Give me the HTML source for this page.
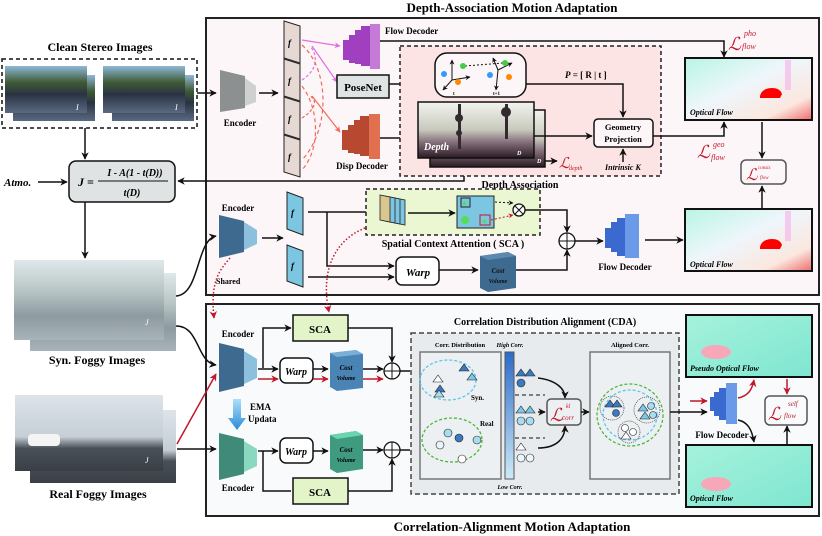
<!DOCTYPE html>
<html><head><meta charset="utf-8"><style>
html,body{margin:0;padding:0;background:#fff;}
svg{display:block;font-family:"Liberation Serif",serif;}
.b{font-weight:bold;}
</style></head><body>
<svg width="822" height="536" viewBox="0 0 822 536" xmlns="http://www.w3.org/2000/svg">
<defs>
<marker id="a" viewBox="0 0 10 10" refX="9" refY="5" markerWidth="5" markerHeight="5" orient="auto"><path d="M0,0L10,5L0,10L3,5z" fill="#111"/></marker>
<marker id="ar" viewBox="0 0 10 10" refX="9" refY="5" markerWidth="5" markerHeight="5" orient="auto"><path d="M0,0L10,5L0,10L3,5z" fill="#c0192b"/></marker>
<marker id="ap" viewBox="0 0 10 10" refX="9" refY="5" markerWidth="5" markerHeight="5" orient="auto"><path d="M0,0L10,5L0,10L3,5z" fill="#e070e0"/></marker>
<marker id="ao" viewBox="0 0 10 10" refX="9" refY="5" markerWidth="5" markerHeight="5" orient="auto"><path d="M0,0L10,5L0,10L3,5z" fill="#f06a5a"/></marker>
<linearGradient id="of" x1="0" y1="0" x2="1" y2="1"><stop offset="0" stop-color="#b8f5e4"/><stop offset="0.45" stop-color="#eef6fb"/><stop offset="0.8" stop-color="#fbe7df"/><stop offset="1" stop-color="#f06a6a"/></linearGradient>
<linearGradient id="of2" x1="0" y1="0" x2="1" y2="1"><stop offset="0" stop-color="#a6f2dc"/><stop offset="1" stop-color="#7ee6d0"/></linearGradient>
<linearGradient id="dp" x1="0" y1="0" x2="0" y2="1"><stop offset="0" stop-color="#f2f4ee"/><stop offset="0.5" stop-color="#c8c8bc"/><stop offset="0.7" stop-color="#8a7580"/><stop offset="1" stop-color="#2a1a24"/></linearGradient>
<linearGradient id="clean" x1="0" y1="0" x2="0" y2="1"><stop offset="0" stop-color="#8fb8d8"/><stop offset="0.35" stop-color="#3f5a35"/><stop offset="0.6" stop-color="#2a3242"/><stop offset="1" stop-color="#5a6a82"/></linearGradient>
<linearGradient id="syn" x1="0" y1="0" x2="0" y2="1"><stop offset="0" stop-color="#dfe8ea"/><stop offset="0.4" stop-color="#b7c4c4"/><stop offset="0.7" stop-color="#8d9aa0"/><stop offset="1" stop-color="#a8b4ba"/></linearGradient>
<linearGradient id="real" x1="0" y1="0" x2="0" y2="1"><stop offset="0" stop-color="#dde4ea"/><stop offset="0.55" stop-color="#c6ced6"/><stop offset="0.7" stop-color="#4a5058"/><stop offset="1" stop-color="#3a3f46"/></linearGradient>
<linearGradient id="bar" x1="0" y1="0" x2="0" y2="1"><stop offset="0" stop-color="#2a6bc8"/><stop offset="1" stop-color="#cfeaf8"/></linearGradient>
<linearGradient id="ema" x1="0" y1="0" x2="0" y2="1"><stop offset="0" stop-color="#aee0f8"/><stop offset="1" stop-color="#2a8ad8"/></linearGradient>
</defs>

<text x="512" y="12" text-anchor="middle" class="b" font-size="13">Depth-Association Motion Adaptation</text>
<text x="512" y="531" text-anchor="middle" class="b" font-size="13">Correlation-Alignment Motion Adaptation</text>

<rect x="206" y="18" width="613" height="277" fill="#fdf6f9" stroke="#222" stroke-width="2"/>
<rect x="206" y="304" width="613" height="212" fill="#f8fafc" stroke="#222" stroke-width="2"/>

<text x="100" y="51" text-anchor="middle" class="b" font-size="12">Clean Stereo Images</text>
<rect x="2" y="59" width="195" height="69" fill="#fff" stroke="#111" stroke-width="1.5" stroke-dasharray="4,3"/>
<rect x="13" y="75" width="82" height="46" fill="url(#clean)"/>
<rect x="5" y="66" width="82" height="47" fill="url(#clean)"/>
<rect x="112" y="75" width="82" height="46" fill="url(#clean)"/>
<rect x="103" y="66" width="82" height="47" fill="url(#clean)"/>
<text x="76" y="110" fill="#fff" font-size="8" font-style="italic">I</text>
<text x="175" y="110" fill="#fff" font-size="8" font-style="italic">I</text>
<line x1="197" y1="93" x2="216" y2="93" stroke="#111" stroke-width="1.5" marker-end="url(#a)"/>
<line x1="85" y1="128" x2="85" y2="159" stroke="#111" stroke-width="1.5" marker-end="url(#a)"/>

<rect x="69" y="161" width="106" height="41" rx="7" fill="#dfe3e3" stroke="#111" stroke-width="1.5"/>
<text x="78" y="186" class="b" font-style="italic" font-size="12">J =</text>
<text x="135" y="176" text-anchor="middle" class="b" font-style="italic" font-size="10">I - A(1 - t(D))</text>
<line x1="98" y1="181" x2="168" y2="181" stroke="#111" stroke-width="1"/>
<text x="132" y="196" text-anchor="middle" class="b" font-style="italic" font-size="10">t(D)</text>
<text x="4" y="186" class="b" font-style="italic" font-size="11">Atmo.</text>
<line x1="38" y1="182" x2="67" y2="182" stroke="#111" stroke-width="1.5" marker-end="url(#a)"/>
<polyline points="464,170 464,181 178,181" fill="none" stroke="#111" stroke-width="1.5" marker-end="url(#a)"/>
<line x1="85" y1="202" x2="85" y2="258" stroke="#111" stroke-width="1.5" marker-end="url(#a)"/>

<rect x="30" y="273" width="146" height="78" fill="url(#syn)"/>
<rect x="14" y="260" width="150" height="80" fill="url(#syn)"/>
<text x="145" y="325" fill="#fff" font-size="8" font-style="italic">J</text>
<text x="97" y="364" text-anchor="middle" class="b" font-size="12">Syn. Foggy Images</text>
<path d="M176,296 C200,295 196,240 216,236" fill="none" stroke="#111" stroke-width="1.5" marker-end="url(#a)"/>
<path d="M176,326 C200,326 196,362 216,365" fill="none" stroke="#111" stroke-width="1.5" marker-end="url(#a)"/>

<rect x="30" y="410" width="146" height="73" fill="url(#real)"/>
<rect x="15" y="395" width="148" height="76" fill="url(#real)"/>
<rect x="28" y="434" width="32" height="12" rx="4" fill="#f4f4f4"/>
<text x="145" y="463" fill="#fff" font-size="8" font-style="italic">J</text>
<text x="98" y="498" text-anchor="middle" class="b" font-size="12">Real Foggy Images</text>
<line x1="177" y1="449" x2="216" y2="449" stroke="#111" stroke-width="1.5" marker-end="url(#a)"/>
<line x1="177" y1="444" x2="216" y2="374" stroke="#c0192b" stroke-width="1.5" marker-end="url(#ar)"/>

<polygon points="220,70 245,76 245,108 220,112" fill="#8c9090"/>
<polygon points="245,78 256,86 256,102 245,106" fill="#cfd0d0"/>
<text x="240" y="126" text-anchor="middle" class="b" font-size="9">Encoder</text>
<line x1="259" y1="93" x2="278" y2="93" stroke="#111" stroke-width="1.5" marker-end="url(#a)"/>
<g fill="#e6d8d2" stroke="#222" stroke-width="1">
<polygon points="284,21 300,26 300,63 284,58"/>
<polygon points="284,59 300,64 300,101 284,96"/>
<polygon points="284,97 300,102 300,139 284,134"/>
<polygon points="284,135 300,140 300,177 284,172"/>
</g>
<g font-size="9" font-style="italic" class="b"><text x="288" y="46">f</text><text x="288" y="84">f</text><text x="288" y="122">f</text><text x="288" y="160">f</text></g>
<g fill="none" stroke-width="1.2">
<path d="M302,40 L340,46" stroke="#e070e0" marker-end="url(#ap)"/>
<path d="M312,46 L337,82" stroke="#e070e0" marker-end="url(#ap)"/>
<path d="M302,80 C318,70 318,55 310,46" stroke="#e070e0" stroke-dasharray="3,2"/>
<path d="M312,96 L340,132" stroke="#f06a5a" marker-end="url(#ao)"/>
<path d="M302,45 C330,70 330,130 302,160" stroke="#f06a5a" stroke-dasharray="4,3"/>
<path d="M302,118 C315,110 318,100 310,96" stroke="#f06a5a" stroke-dasharray="3,2"/>
<path d="M302,86 C320,110 320,150 302,170" stroke="#f06a5a" stroke-dasharray="4,3"/>
</g>
<g fill="#a040c0"><rect x="343" y="40" width="8" height="20"/><rect x="349" y="35" width="8" height="28"/><rect x="355" y="30" width="8" height="34"/><rect x="361" y="26" width="9" height="40"/></g>
<rect x="370" y="24" width="10" height="45" fill="#c67ad8"/>
<text x="385" y="34" class="b" font-size="9">Flow Decoder</text>
<polyline points="380,41 724,41 724,57" fill="none" stroke="#111" stroke-width="1.5" marker-end="url(#a)"/>
<rect x="337" y="75" width="52" height="23" fill="#dfe3e3" stroke="#111" stroke-width="1.5"/>
<text x="363" y="91" text-anchor="middle" class="b" font-size="11">PoseNet</text>
<line x1="389" y1="84" x2="433" y2="84" stroke="#111" stroke-width="1.5" marker-end="url(#a)"/>
<g fill="#b84830"><rect x="342" y="130" width="8" height="20"/><rect x="348" y="125" width="8" height="28"/><rect x="354" y="120" width="8" height="34"/><rect x="360" y="116" width="9" height="40"/></g>
<rect x="369" y="114" width="11" height="45" fill="#e07050"/>
<text x="362" y="169" text-anchor="middle" class="b" font-size="9">Disp Decoder</text>
<line x1="380" y1="138" x2="416" y2="138" stroke="#111" stroke-width="1.5" marker-end="url(#a)"/>

<rect x="400" y="46" width="261" height="130" fill="#fde4e4" stroke="#222" stroke-width="1.5" stroke-dasharray="4,3"/>
<text x="520" y="188" text-anchor="middle" class="b" font-size="10">Depth Association</text>
<rect x="435" y="53" width="91" height="44" rx="12" fill="#fdf6f9" stroke="#111" stroke-width="1.5"/>
<g stroke="#111" stroke-width="1"><line x1="452" y1="80" x2="452" y2="60" marker-end="url(#a)"/><line x1="452" y1="80" x2="470" y2="77" marker-end="url(#a)"/><line x1="452" y1="80" x2="443" y2="90" marker-end="url(#a)"/><line x1="498" y1="70" x2="493" y2="58" marker-end="url(#a)"/><line x1="498" y1="70" x2="512" y2="63" marker-end="url(#a)"/><line x1="498" y1="70" x2="496" y2="90" marker-end="url(#a)"/></g>
<line x1="465" y1="66" x2="503" y2="63" stroke="#111" stroke-dasharray="2,2"/>
<circle cx="463" cy="66" r="3" fill="#4c4"/><circle cx="444" cy="74" r="3" fill="#39f"/><circle cx="458" cy="82" r="3" fill="#f80"/>
<circle cx="505" cy="63" r="3" fill="#4c4"/><circle cx="490" cy="75" r="3" fill="#39f"/><circle cx="509" cy="77" r="3" fill="#f80"/>
<text x="453" y="95" font-size="5" class="b">t</text><text x="493" y="95" font-size="5" class="b">t+1</text>
<text x="565" y="78" class="b" font-size="9"><tspan font-style="italic">P</tspan> = [ R | t ]</text>
<polyline points="526,84 623,84 623,117" fill="none" stroke="#111" stroke-width="1.5" marker-end="url(#a)"/>
<rect x="430" y="110" width="115" height="57" fill="url(#dp)" stroke="#111" stroke-width="1.5"/>
<rect x="418" y="102" width="116" height="56" fill="url(#dp)" stroke="#111" stroke-width="1.5"/>
<g fill="#332a30"><rect x="458" y="104" width="3" height="45"/><rect x="505" y="104" width="3" height="35"/><circle cx="459" cy="118" r="4"/><circle cx="506" cy="112" r="5"/><circle cx="459" cy="133" r="3"/></g>
<text x="424" y="150" fill="#fff" font-size="10" class="b" font-style="italic">Depth</text>
<text x="517" y="155" fill="#fff" font-size="6" class="b" font-style="italic">D</text>
<text x="537" y="163" fill="#fff" font-size="6" class="b" font-style="italic">D</text>
<line x1="545" y1="161" x2="557" y2="161" stroke="#111" stroke-width="1.5" marker-end="url(#a)"/>
<text x="559" y="168" fill="#c0192b" font-size="15" font-style="italic">ℒ</text><text x="569" y="170" fill="#c0192b" font-size="6" font-style="italic">depth</text>
<line x1="534" y1="136" x2="592" y2="136" stroke="#111" stroke-width="1.5" marker-end="url(#a)"/>
<rect x="594" y="119" width="59" height="28" rx="4" fill="#fdf6f9" stroke="#111" stroke-width="1.5"/>
<text x="623" y="130" text-anchor="middle" class="b" font-size="8.5">Geometry</text>
<text x="623" y="142" text-anchor="middle" class="b" font-size="8.5">Projection</text>
<line x1="623" y1="162" x2="623" y2="149" stroke="#111" stroke-width="1.5" marker-end="url(#a)"/>
<text x="605" y="170" class="b" font-style="italic" font-size="8">Intrinsic K</text>
<polyline points="653,136 724,136 724,122" fill="none" stroke="#111" stroke-width="1.5" marker-end="url(#a)"/>

<rect x="685" y="58" width="127" height="62" fill="url(#of)" stroke="#111" stroke-width="2"/>
<path d="M760,96 q2,-8 12,-8 q8,0 10,6 l-2,4 h-20z" fill="#f00"/><rect x="785" y="60" width="6" height="30" fill="#f6b8e8" opacity="0.7"/>
<text x="690" y="115" class="b" font-style="italic" font-size="8">Optical Flow</text>
<text x="728" y="50" fill="#c0192b" font-size="18" font-style="italic">ℒ</text><text x="744" y="36" fill="#c0192b" font-size="8" font-style="italic">pho</text><text x="742" y="49" fill="#c0192b" font-size="8" font-style="italic">flow</text>
<text x="697" y="158" fill="#c0192b" font-size="18" font-style="italic">ℒ</text><text x="713" y="147" fill="#c0192b" font-size="8" font-style="italic">geo</text><text x="711" y="160" fill="#c0192b" font-size="8" font-style="italic">flow</text>
<line x1="762" y1="122" x2="762" y2="158" stroke="#111" stroke-width="1.5" marker-end="url(#a)"/>
<rect x="741" y="160" width="45" height="24" rx="5" fill="#fdf6f9" stroke="#555" stroke-width="1.5"/>
<text x="746" y="180" fill="#c0192b" font-size="16" font-style="italic">ℒ</text><text x="758" y="169" fill="#c0192b" font-size="5" font-style="italic">consis</text><text x="760" y="179" fill="#c0192b" font-size="5" font-style="italic">flow</text>
<line x1="762" y1="208" x2="762" y2="186" stroke="#111" stroke-width="1.5" marker-end="url(#a)"/>
<rect x="685" y="209" width="127" height="62" fill="url(#of)" stroke="#111" stroke-width="2"/>
<path d="M760,247 q2,-8 12,-8 q8,0 10,6 l-2,4 h-20z" fill="#f00"/><rect x="785" y="211" width="6" height="30" fill="#f6b8e8" opacity="0.7"/>
<text x="690" y="267" class="b" font-style="italic" font-size="8">Optical Flow</text>

<text x="238" y="211" text-anchor="middle" class="b" font-size="9">Encoder</text>
<polygon points="219,215 244,221 244,252 219,258" fill="#3e6a90"/>
<polygon points="244,222 257,230 257,244 244,250" fill="#8cc0dc"/>
<text x="216" y="284" class="b" font-size="8">Shared</text>
<line x1="262" y1="238" x2="283" y2="238" stroke="#111" stroke-width="1.5" marker-end="url(#a)"/>
<polygon points="287,192 303,198 303,235 287,229" fill="#7cc6e2" stroke="#222"/>
<polygon points="287,245 303,251 303,287 287,281" fill="#7cc6e2" stroke="#222"/>
<text x="291" y="216" font-size="9" class="b" font-style="italic">f</text><text x="291" y="269" font-size="9" class="b" font-style="italic">f</text>
<polyline points="308,212 380,212" fill="none" stroke="#111" stroke-width="1.5" marker-end="url(#a)"/>
<polyline points="327,212 327,266 394,266" fill="none" stroke="#111" stroke-width="1.5" marker-end="url(#a)"/>
<line x1="308" y1="277" x2="394" y2="277" stroke="#111" stroke-width="1.5" marker-end="url(#a)"/>
<rect x="366" y="189" width="174" height="46" fill="#eaf7d2" stroke="#222" stroke-width="1.5" stroke-dasharray="4,3"/>
<g stroke="#222" stroke-width="0.8"><polygon points="395,198 405,200 405,225 395,223" fill="#7cc6e2"/><polygon points="390,197 400,199 400,224 390,222" fill="#7cc6e2"/><polygon points="385,196 395,198 395,223 385,221" fill="#7cc6e2"/><polygon points="380,195 390,197 390,222 380,220" fill="#d8c890"/></g>
<line x1="408" y1="213" x2="455" y2="213" stroke="#111" stroke-width="1.5" marker-end="url(#a)"/>
<rect x="457" y="196" width="37" height="32" fill="#7cc6e2" stroke="#222"/>
<rect x="461" y="198" width="9" height="9" fill="none" stroke="#222"/><rect x="480" y="215" width="10" height="10" fill="none" stroke="#c0192b"/>
<circle cx="465" cy="220" r="4" fill="#5d5"/><text x="461" y="206" font-size="8" fill="#5d5">★</text><text x="481" y="224" font-size="8" fill="#5d5">★</text>
<path d="M495,202 L513,203" stroke="#111" stroke-dasharray="2,2" marker-end="url(#a)"/>
<path d="M491,220 L513,215" stroke="#c0192b" stroke-dasharray="2,2" marker-end="url(#ar)"/>
<circle cx="519" cy="210" r="6" fill="#fff" stroke="#111" stroke-width="1.3"/><path d="M515,206 L523,214 M523,206 L515,214" stroke="#111"/>
<text x="453" y="247" text-anchor="middle" class="b" font-size="10">Spatial Context Attention ( SCA )</text>
<polyline points="525,210 567,210 567,232" fill="none" stroke="#111" stroke-width="1.5" marker-end="url(#a)"/>
<rect x="396" y="257" width="43" height="28" rx="6" fill="#fff" stroke="#111" stroke-width="1.5"/>
<text x="418" y="276" text-anchor="middle" class="b" font-style="italic" font-size="11">Warp</text>
<line x1="439" y1="270" x2="478" y2="270" stroke="#111" stroke-width="1.5" marker-end="url(#a)"/>
<polygon points="480,256 508,252 516,256 516,288 488,292 480,288" fill="#3e6a90"/><polygon points="480,256 508,252 516,256 488,260" fill="#5a8ab0"/>
<text x="498" y="273" text-anchor="middle" font-size="7" class="b" font-style="italic" fill="#111">Cost</text><text x="498" y="283" text-anchor="middle" font-size="6" class="b" font-style="italic" fill="#111">Volume</text>
<polyline points="516,270 567,270 567,250" fill="none" stroke="#111" stroke-width="1.5" marker-end="url(#a)"/>
<circle cx="567" cy="241" r="8" fill="#fff" stroke="#111" stroke-width="1.3"/><path d="M559,241 H575 M567,233 V249" stroke="#111"/>
<line x1="575" y1="241" x2="603" y2="241" stroke="#111" stroke-width="1.5" marker-end="url(#a)"/>
<g fill="#3a6ad0"><rect x="605" y="228" width="8" height="20"/><rect x="611" y="222" width="8" height="30"/><rect x="617" y="218" width="8" height="38"/></g><rect x="625" y="214" width="14" height="44" fill="#6a9ae8"/>
<text x="625" y="270" text-anchor="middle" class="b" font-size="9">Flow Decoder</text>
<line x1="645" y1="240" x2="683" y2="240" stroke="#111" stroke-width="1.5" marker-end="url(#a)"/>
<path d="M230,258 C220,270 210,280 214,318" fill="none" stroke="#c0192b" stroke-width="1.5" stroke-dasharray="1.5,2" marker-end="url(#ar)"/>
<path d="M365,228 C335,240 320,270 329,312" fill="none" stroke="#c0192b" stroke-width="1.5" stroke-dasharray="1.5,2" marker-end="url(#ar)"/>

<text x="238" y="337" text-anchor="middle" class="b" font-size="9">Encoder</text>
<polygon points="219,343 244,349 244,386 219,392" fill="#3e6a90"/><polygon points="244,351 257,359 257,378 244,384" fill="#8cc0dc"/>
<polyline points="263,368 263,328 291,328" fill="none" stroke="#111" stroke-width="1.5" marker-end="url(#a)"/>
<rect x="293" y="315" width="55" height="26" fill="#e3f5c8" stroke="#111" stroke-width="1.5"/>
<text x="320" y="333" text-anchor="middle" class="b" font-size="11">SCA</text>
<polyline points="348,328 392,328 392,362" fill="none" stroke="#111" stroke-width="1.5" marker-end="url(#a)"/>
<line x1="258" y1="369" x2="278" y2="369" stroke="#111" stroke-width="1.5" marker-end="url(#a)"/>
<line x1="258" y1="379" x2="278" y2="379" stroke="#c0192b" stroke-width="1.5" marker-end="url(#ar)"/>
<rect x="280" y="358" width="33" height="25" rx="6" fill="#fff" stroke="#111" stroke-width="1.5"/>
<text x="296" y="375" text-anchor="middle" class="b" font-style="italic" font-size="10">Warp</text>
<line x1="313" y1="369" x2="328" y2="369" stroke="#111" stroke-width="1.5" marker-end="url(#a)"/>
<line x1="313" y1="379" x2="328" y2="379" stroke="#c0192b" stroke-width="1.5" marker-end="url(#ar)"/>
<polygon points="330,353 356,350 363,354 363,388 337,391 330,387" fill="#4a84b4"/><polygon points="330,353 356,350 363,354 337,357" fill="#7ab0d8"/>
<text x="346" y="370" text-anchor="middle" font-size="7" class="b" font-style="italic">Cost</text><text x="346" y="380" text-anchor="middle" font-size="6" class="b" font-style="italic">Volume</text>
<line x1="363" y1="369" x2="383" y2="369" stroke="#111" stroke-width="1.5" marker-end="url(#a)"/>
<line x1="363" y1="379" x2="383" y2="379" stroke="#c0192b" stroke-width="1.5" marker-end="url(#ar)"/>
<circle cx="392" cy="371" r="8" fill="#fff" stroke="#111" stroke-width="1.3"/><path d="M384,371 H400 M392,363 V379" stroke="#111"/>
<line x1="400" y1="371" x2="410" y2="371" stroke="#111" stroke-width="1.5"/>
<polygon points="233,399 241,399 241,418 246,418 237,430 228,418 233,418" fill="url(#ema)"/>
<text x="250" y="410" class="b" font-size="9">EMA</text><text x="248" y="422" class="b" font-size="9">Updata</text>
<polygon points="219,433 244,439 244,474 219,480" fill="#3f8a78"/><polygon points="244,441 257,449 257,466 244,472" fill="#8ad8c0"/>
<text x="238" y="491" text-anchor="middle" class="b" font-size="9">Encoder</text>
<line x1="258" y1="451" x2="278" y2="451" stroke="#111" stroke-width="1.5" marker-end="url(#a)"/>
<polyline points="263,451 263,491 291,491" fill="none" stroke="#111" stroke-width="1.5"/>
<rect x="280" y="438" width="33" height="25" rx="6" fill="#fff" stroke="#111" stroke-width="1.5"/>
<text x="296" y="455" text-anchor="middle" class="b" font-style="italic" font-size="10">Warp</text>
<line x1="313" y1="451" x2="328" y2="451" stroke="#111" stroke-width="1.5" marker-end="url(#a)"/>
<polygon points="330,435 356,431 363,435 363,469 337,473 330,469" fill="#3f9a80"/><polygon points="330,435 356,431 363,435 337,439" fill="#6ad4b0"/>
<text x="346" y="452" text-anchor="middle" font-size="7" class="b" font-style="italic">Cost</text><text x="346" y="462" text-anchor="middle" font-size="6" class="b" font-style="italic">Volume</text>
<line x1="363" y1="450" x2="383" y2="450" stroke="#111" stroke-width="1.5" marker-end="url(#a)"/>
<rect x="293" y="478" width="55" height="26" fill="#e3f5c8" stroke="#111" stroke-width="1.5"/>
<text x="320" y="496" text-anchor="middle" class="b" font-size="11">SCA</text>
<polyline points="348,491 392,491 392,459" fill="none" stroke="#111" stroke-width="1.5" marker-end="url(#a)"/>
<circle cx="392" cy="450" r="8" fill="#fff" stroke="#111" stroke-width="1.3"/><path d="M384,450 H400 M392,442 V458" stroke="#111"/>
<line x1="400" y1="450" x2="410" y2="450" stroke="#111" stroke-width="1.5"/>

<text x="545" y="325" text-anchor="middle" class="b" font-size="10">Correlation Distribution Alignment (CDA)</text>
<rect x="411" y="333" width="268" height="161" fill="#e8ebee" stroke="#444" stroke-width="1.5" stroke-dasharray="5,3"/>
<text x="460" y="347" text-anchor="middle" class="b" font-size="6.5">Corr. Distribution</text>
<rect x="420" y="352" width="81" height="127" fill="#edf0f2" stroke="#777" stroke-width="1.5"/>
<ellipse cx="448" cy="380" rx="28" ry="20" fill="none" stroke="#5ac8ec" stroke-width="1.3" stroke-dasharray="3,2"/>
<ellipse cx="452" cy="440" rx="30" ry="22" fill="none" stroke="#4cb83a" stroke-width="1.3" stroke-dasharray="3,2"/>
<g stroke="#222" stroke-width="0.6"><polygon points="464,364 469,371 459,371" fill="#3a7ac0"/><polygon points="472,373 477,380 467,380" fill="#7ac8e8"/><polygon points="440,385 445,392 435,392" fill="#3a7ac0"/><polygon points="438,375 443,382 433,382" fill="#fff"/><polygon points="439,390 444,397 434,397" fill="#a8ddf0"/>
<circle cx="448" cy="433" r="4" fill="#a8ddf0"/><circle cx="459" cy="438" r="4" fill="#3a7ac0"/><circle cx="477" cy="440" r="4" fill="#a8ddf0"/><circle cx="440" cy="445" r="4" fill="#eaf6fb"/><circle cx="462" cy="459" r="4" fill="#fff"/></g>
<text x="471" y="400" class="b" font-size="7">Syn.</text><text x="480" y="426" class="b" font-size="7">Real</text>
<rect x="505" y="352" width="9" height="127" fill="url(#bar)" stroke="#555"/>
<text x="510" y="347" text-anchor="middle" class="b" font-style="italic" font-size="6">High Corr.</text>
<text x="510" y="489" text-anchor="middle" class="b" font-style="italic" font-size="6">Low Corr.</text>
<g stroke="#222" stroke-width="0.6"><polygon points="521,369 526,376 516,376" fill="#3a7ac0"/><polygon points="530,369 535,376 525,376" fill="#3a7ac0"/><circle cx="521" cy="383" r="4" fill="#3a7ac0"/>
<polygon points="521,406 526,413 516,413" fill="#7ac8e8"/><polygon points="530,406 535,413 525,413" fill="#7ac8e8"/><circle cx="521" cy="421" r="4" fill="#a8ddf0"/><circle cx="530" cy="421" r="4" fill="#a8ddf0"/>
<polygon points="521,443 526,450 516,450" fill="#fff"/><circle cx="521" cy="458" r="4" fill="#eaf6fb"/><circle cx="530" cy="458" r="4" fill="#eaf6fb"/></g>
<line x1="515" y1="395" x2="545" y2="395" stroke="#111" stroke-dasharray="4,3"/><line x1="515" y1="438" x2="545" y2="438" stroke="#111" stroke-dasharray="4,3"/>
<path d="M538,378 C555,380 565,388 565,398" fill="none" stroke="#111" stroke-width="1.5" marker-end="url(#a)"/>
<path d="M538,448 C555,448 565,440 565,426" fill="none" stroke="#111" stroke-width="1.5" marker-end="url(#a)"/>
<line x1="538" y1="412" x2="545" y2="412" stroke="#111" stroke-width="1.5" marker-end="url(#a)"/>
<rect x="547" y="399" width="34" height="26" rx="4" fill="#edf0f2" stroke="#555" stroke-width="1.5"/>
<text x="550" y="421" fill="#c0192b" font-size="18" font-style="italic">ℒ</text><text x="566" y="408" fill="#c0192b" font-size="6" font-style="italic">kl</text><text x="562" y="420" fill="#c0192b" font-size="7" font-style="italic">corr</text>
<line x1="581" y1="412" x2="589" y2="412" stroke="#111" stroke-width="1.5" marker-end="url(#a)"/>
<text x="630" y="347" text-anchor="middle" class="b" font-size="6.5">Aligned Corr.</text>
<rect x="590" y="352" width="80" height="127" fill="#edf0f2" stroke="#777" stroke-width="1.5"/>
<ellipse cx="630" cy="415" rx="33" ry="31" fill="none" stroke="#4cb83a" stroke-width="1.3" stroke-dasharray="3,2"/>
<ellipse cx="630" cy="415" rx="27" ry="25" fill="none" stroke="#5ac8ec" stroke-width="1.3" stroke-dasharray="3,2"/>
<g fill="none" stroke="#333" stroke-width="0.7" stroke-dasharray="1,1"><circle cx="612" cy="408" r="12"/><circle cx="647" cy="410" r="13"/><circle cx="629" cy="432" r="11"/></g>
<g stroke="#222" stroke-width="0.6"><polygon points="610,400 615,407 605,407" fill="#3a7ac0"/><polygon points="617,400 622,407 612,407" fill="#3a7ac0"/><circle cx="616" cy="413" r="3.5" fill="#3a7ac0"/>
<polygon points="643,404 648,411 638,411" fill="#7ac8e8"/><circle cx="651" cy="406" r="3.5" fill="#a8ddf0"/><polygon points="645,412 650,419 640,419" fill="#7ac8e8"/><circle cx="653" cy="415" r="3.5" fill="#a8ddf0"/>
<circle cx="625" cy="428" r="3.5" fill="#fff"/><circle cx="633" cy="432" r="3.5" fill="#fff"/><polygon points="626,432 631,439 621,439" fill="#fff"/></g>
<line x1="670" y1="412" x2="707" y2="412" stroke="#111" stroke-width="1.5" marker-end="url(#a)"/>
<line x1="690" y1="401" x2="707" y2="401" stroke="#c0192b" stroke-width="1.5" marker-end="url(#ar)"/>

<rect x="686" y="315" width="126" height="62" fill="url(#of2)" stroke="#111" stroke-width="2"/>
<ellipse cx="716" cy="352" rx="15" ry="7" fill="#f7a8b8"/>
<text x="690" y="371" class="b" font-style="italic" font-size="8">Pseudo Optical Flow</text>
<g fill="#3a6ad0"><rect x="710" y="397" width="6" height="14"/><rect x="714" y="392" width="7" height="24"/><rect x="719" y="388" width="7" height="32"/></g><rect x="726" y="383" width="11" height="41" fill="#6a9ae8"/>
<text x="722" y="438" text-anchor="middle" class="b" font-size="9">Flow Decoder</text>
<path d="M738,398 C748,396 752,390 754,380" fill="none" stroke="#c0192b" stroke-width="1.5" marker-end="url(#ar)"/>
<path d="M738,420 C748,422 752,430 754,442" fill="none" stroke="#111" stroke-width="1.5" marker-end="url(#a)"/>
<line x1="787" y1="379" x2="787" y2="394" stroke="#c0192b" stroke-width="1.5" marker-end="url(#ar)"/>
<line x1="787" y1="444" x2="787" y2="426" stroke="#111" stroke-width="1.5" marker-end="url(#a)"/>
<rect x="765" y="396" width="42" height="29" rx="5" fill="#f8fafc" stroke="#555" stroke-width="1.5"/>
<text x="768" y="420" fill="#c0192b" font-size="18" font-style="italic">ℒ</text><text x="788" y="406" fill="#c0192b" font-size="7" font-style="italic">self</text><text x="784" y="418" fill="#c0192b" font-size="7" font-style="italic">flow</text>
<rect x="686" y="445" width="126" height="62" fill="url(#of2)" stroke="#111" stroke-width="2"/>
<ellipse cx="716" cy="484" rx="15" ry="7" fill="#f7a8b8"/>
<text x="690" y="501" class="b" font-style="italic" font-size="8">Optical Flow</text>
</svg>
</body></html>
